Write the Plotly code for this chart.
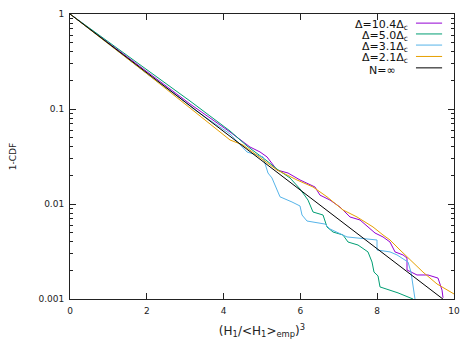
import plotly.graph_objects as go

# ---- data ----
x_d104 = [0, 1.042, 2.083, 3.125, 4.167, 4.688, 4.948, 5.130, 5.391, 5.677, 5.990, 6.172, 6.380,
          6.510, 6.771, 7.031, 7.161, 7.292, 7.552, 7.760, 7.943, 8.151, 8.333, 8.464, 8.672,
          8.776, 8.776, 9.036, 9.323, 9.583, 9.688, 9.714]
y_d104 = [1, 0.483, 0.234, 0.113, 0.0573, 0.0398, 0.0353, 0.0313, 0.0228, 0.0212, 0.0179, 0.0166,
          0.0151, 0.0124, 0.0110, 0.00929, 0.00824, 0.00730, 0.00679, 0.00573, 0.00495, 0.00450,
          0.00398, 0.00313, 0.00291, 0.00270, 0.00202, 0.00179, 0.00179, 0.00166, 0.00124, 0.00103]

x_d50 = [0, 1.042, 2.083, 3.125, 4.167, 4.609, 5.130, 5.391, 5.729, 5.990, 6.198, 6.328, 6.589,
         6.693, 6.849, 7.109, 7.240, 7.500, 7.760, 7.865, 7.917, 8.021, 8.073, 8.542, 8.932]
y_d50 = [1, 0.495, 0.245, 0.1214, 0.0587, 0.0408, 0.0284, 0.0233, 0.0188, 0.0144, 0.0110, 0.00824,
         0.00766, 0.00573, 0.00507, 0.00472, 0.00398, 0.00370, 0.00313, 0.00245, 0.00192, 0.00175,
         0.00134, 0.00116, 0.001]

x_d31 = [0, 1.042, 2.083, 2.865, 3.255, 4.167, 4.609, 5.026, 5.156, 5.260, 5.469, 5.781, 5.990,
         6.042, 6.172, 6.641, 6.771, 7.214, 7.995, 7.995, 8.333, 8.516, 8.802, 8.880, 8.984]
y_d31 = [1, 0.472, 0.222, 0.1305, 0.0976, 0.0546, 0.0353, 0.0313, 0.0212, 0.0188, 0.0119, 0.0105,
         0.00953, 0.00766, 0.00662, 0.00615, 0.00546, 0.00450, 0.00418, 0.00328, 0.00313, 0.00291,
         0.00245, 0.00192, 0.001]

x_d21 = [0, 1.042, 2.083, 3.125, 4.167, 4.505, 5.026, 5.391, 5.911, 6.328, 6.693, 7.109, 7.474,
         7.891, 8.151, 8.333, 8.594, 8.932, 9.193, 9.557, 9.896, 10.0]
y_d21 = [1, 0.472, 0.222, 0.1025, 0.0472, 0.0418, 0.0290, 0.0228, 0.0179, 0.0151, 0.0119, 0.00865,
         0.00730, 0.00573, 0.00472, 0.00418, 0.00328, 0.00245, 0.00192, 0.00144, 0.00121, 0.00113]

x_inf = [0, 9.71]
y_inf = [1, 0.001]

series_names = ["Δ=10.4Δ<sub>c</sub>", "Δ=5.0Δ<sub>c</sub>", "Δ=3.1Δ<sub>c</sub>", "Δ=2.1Δ<sub>c</sub>", "N=∞"]
series_colors = ["#9400d3", "#009e73", "#56b4e9", "#e69f00", "#000000"]
series_x = [x_d104, x_d50, x_d31, x_d21, x_inf]
series_y = [y_d104, y_d50, y_d31, y_d21, y_inf]

y_tickvals = [0.001, 0.01, 0.1, 1]
y_ticktext = ["0.001", "0.01", "0.1", "1"]
y_minor = [m * 10.0 ** e for e in (-3, -2, -1) for m in range(2, 10)]
x_tickvals = [0, 2, 4, 6, 8, 10]

FONT = "DejaVu Sans"

fig = go.Figure()
for name, col, xs, ys in zip(series_names, series_colors, series_x, series_y):
    fig.add_trace(go.Scatter(x=xs, y=ys, mode="lines", name=name,
                             line=dict(color=col, width=1), showlegend=False))

# custom legend (text right-aligned, sample on the right, as in gnuplot)
leg_line_y = [0.968, 0.930, 0.891, 0.851, 0.811]
leg_text_y = [0.962, 0.924, 0.885, 0.845, 0.800]
leg_x_text = [0.885, 0.885, 0.885, 0.885, 0.855]
for name, col, ly, ty, xt in zip(series_names, series_colors, leg_line_y, leg_text_y, leg_x_text):
    fig.add_annotation(x=xt, y=ty, xref="paper", yref="paper", text=name, showarrow=False,
                       xanchor="right", yanchor="middle", font=dict(family=FONT, size=11, color="#111"))
    fig.add_shape(type="line", xref="paper", yref="paper", x0=0.901, x1=0.969, y0=ly, y1=ly,
                  line=dict(color=col, width=1))

# page body has an 8px margin, so figure is sized/margined to land the plot area at the reference spot
fig.update_layout(
    width=466, height=347,
    margin=dict(l=62, r=20, t=6, b=56, autoexpand=False),
    paper_bgcolor="white", plot_bgcolor="white",
    font=dict(family=FONT, size=9, color="#222"),
    showlegend=False,
)
fig.update_xaxes(range=[0, 10], tickvals=x_tickvals, ticks="inside", ticklen=6, tickcolor="#222",
                 showline=True, linecolor="#222", linewidth=1, mirror="ticks", showgrid=False,
                 zeroline=False, tickfont=dict(size=9), ticklabelstandoff=3,
                 title=dict(text="(H<sub>1</sub>/&lt;H<sub>1</sub>&gt;<sub>emp</sub>)<sup>3</sup>",
                            font=dict(size=12), standoff=11))
fig.update_yaxes(type="log", range=[-3, 0], tickvals=y_tickvals, ticktext=y_ticktext,
                 ticks="inside", ticklen=6, tickcolor="#222",
                 minor=dict(tickvals=y_minor, ticks="inside", ticklen=3, tickcolor="#222", showgrid=False),
                 showline=True, linecolor="#222", linewidth=1, mirror="ticks", showgrid=False,
                 zeroline=False, tickfont=dict(size=9), ticklabelstandoff=3,
                 title=dict(text="1-CDF", font=dict(size=9), standoff=24))

fig.write_html("out.html")
